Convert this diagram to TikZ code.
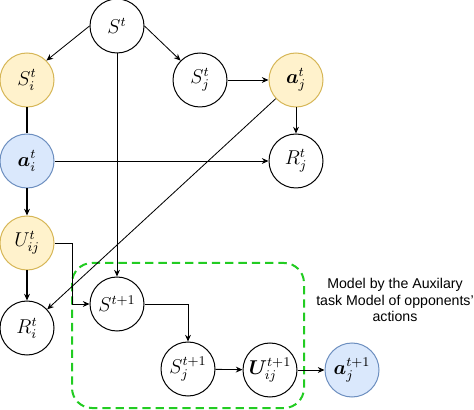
\documentclass[tikz,border=0pt]{standalone}
\usepackage{amsmath,amssymb,bm}
\usepackage{fontspec}
\setsansfont{Liberation Sans}
\usepackage{tikz}
\usetikzlibrary{arrows.meta}

\definecolor{nodeyellow}{HTML}{FFF2CC}
\definecolor{edgeyellow}{HTML}{D6B656}
\definecolor{nodeblue}{HTML}{DAE8FC}
\definecolor{edgeblue}{HTML}{6C8EBF}
\definecolor{boxgreen}{HTML}{22CC22}

\begin{document}
\begin{tikzpicture}[x=0.6pt, y=-0.6pt]
			\tikzset{state/.style={draw, circle, inner sep=0pt, minimum size=32.4pt, line width=0.6pt, font=\large},
				obs/.style={state, fill=nodeyellow, draw=edgeyellow},
				act/.style={state, fill=nodeblue, draw=edgeblue},
				link/.style={-{Stealth[length=4pt,width=3.5pt]}, line width=0.5pt}}
			\useasboundingbox (0,0) rectangle (474,410);
			
			\node[state] (S_t) at (117,26) {$S^{t}$};
			\node[obs] (S_it) at (27,80) {$S^{t}_{i}$};
			\node[state] (S_jt) at (200,80) {$S^{t}_{j}$};
			\node[obs] (a_jt) at (296,80) {$\bm{a}^{t}_{j}$};
			\node[act] (a_it) at (27,161) {$\bm{a}^{t}_{i}$};
			\node[state] (R_jt) at (296,161) {$R^{t}_{j}$};
			\node[obs] (U_ijt) at (27,243) {$U^{t}_{ij}$};
			\node[state] (R_it) at (27,328) {$R^{t}_{i}$};
			\node[state] (S_t1) at (117,304) {$S^{t+1}$};
			\node[state] (S_jt1) at (188,369) {$S^{t+1}_{j}$};
			\node[state] (U_ijt1) at (270,370) {$\bm{U}^{t+1}_{ij}$};
			\node[act] (a_jt1) at (352,370) {$\bm{a}^{t+1}_{j}$};
			\coordinate (c_1) at (72,243);
			
			% auxiliary task box
			\draw[boxgreen, dashed, line width=1.2pt, dash pattern=on 5pt off 3pt, rounded corners=12] (72,263) rectangle (304,408);
			\node[font=\sffamily\fontsize{8.5}{10}\selectfont, align=center] (aux) at (395,300) {Model by the Auxilary\\ task Model of opponents'\\ actions};
			
			\draw[link] (S_t.west) -- (S_it.45);
			\draw[link] (S_t.east) -- (S_jt.135);
			\draw[link] (S_t) -- (S_t1);
			\draw[link] (S_jt) -- (a_jt);
			\draw[link] (a_jt) -- (R_jt);
			\draw[link] (a_jt) -- (R_it);
			\draw[line width=1pt] (S_it) -- (a_it);
			\draw[link] (a_it) -- (R_jt);
			\draw[link, line width=0.8pt] (a_it) -- (U_ijt);
			\draw[link, line width=0.8pt] (U_ijt) -- (R_it);
			\draw[link] (U_ijt) -- (c_1) |- (S_t1);
			\draw[link] (S_t1) -| (S_jt1);
			\draw[link] (S_jt1) -- (U_ijt1);
			\draw[link] (U_ijt1) -- (a_jt1);
			
		\end{tikzpicture}
\end{document}
